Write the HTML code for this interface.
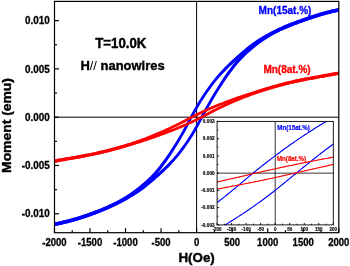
<!DOCTYPE html>
<html><head><meta charset="utf-8"><title>M-H</title>
<style>html,body{margin:0;padding:0;background:#fff}svg{display:block}text{font-family:"Liberation Sans",sans-serif;font-weight:bold;fill:#000}</style></head><body>
<svg width="350" height="266" viewBox="0 0 350 266">
<rect width="350" height="266" fill="#fff"/>
<defs><clipPath id="mc"><rect x="54.50" y="1.40" width="284.30" height="231.30"/></clipPath>
<clipPath id="ic"><rect x="217.10" y="121.40" width="116.20" height="103.50"/></clipPath></defs>
<g stroke="#000" stroke-width="1" fill="none">
<line x1="54.50" y1="117.20" x2="338.80" y2="117.20"/>
<line x1="196.60" y1="1.40" x2="196.60" y2="232.70"/>
</g>
<g clip-path="url(#mc)" fill="none" stroke-linejoin="round">
<path d="M52.81,226.31 L54.02,226.10 L55.24,225.88 L56.46,225.65 L57.67,225.42 L58.89,225.17 L60.11,224.92 L61.33,224.66 L62.54,224.39 L63.76,224.12 L64.98,223.83 L66.19,223.54 L67.41,223.24 L68.63,222.94 L69.84,222.62 L71.06,222.30 L72.28,221.97 L73.49,221.63 L74.71,221.29 L75.92,220.94 L77.14,220.58 L78.35,220.22 L79.57,219.85 L80.78,219.47 L82.00,219.08 L83.21,218.69 L84.43,218.29 L85.64,217.88 L86.86,217.47 L88.07,217.05 L89.29,216.62 L90.50,216.19 L91.72,215.75 L92.93,215.31 L94.15,214.85 L95.36,214.40 L96.57,213.93 L97.79,213.46 L99.00,212.98 L100.21,212.50 L101.43,212.01 L102.64,211.52 L103.86,211.02 L105.07,210.51 L106.28,209.99 L107.50,209.47 L108.72,208.93 L109.93,208.39 L111.15,207.84 L112.38,207.27 L113.60,206.68 L114.82,206.08 L116.04,205.47 L117.26,204.84 L118.48,204.20 L119.70,203.54 L120.92,202.88 L122.14,202.20 L123.37,201.50 L124.59,200.78 L125.81,200.05 L127.03,199.30 L128.25,198.53 L129.48,197.74 L130.70,196.94 L131.92,196.11 L133.14,195.27 L134.37,194.41 L135.59,193.53 L136.81,192.62 L138.03,191.70 L139.25,190.76 L140.47,189.79 L141.70,188.81 L142.92,187.80 L144.13,186.76 L145.34,185.70 L146.55,184.61 L147.77,183.50 L148.98,182.35 L150.19,181.18 L151.40,179.98 L152.62,178.75 L153.83,177.48 L155.04,176.18 L156.26,174.84 L157.48,173.44 L158.69,171.98 L159.90,170.48 L161.11,168.92 L162.32,167.34 L163.52,165.72 L164.72,164.07 L165.93,162.41 L167.13,160.72 L168.33,158.99 L169.54,157.21 L170.74,155.40 L171.94,153.56 L173.14,151.68 L174.34,149.77 L175.54,147.84 L176.74,145.88 L177.94,143.91 L179.15,141.92 L180.36,139.90 L181.57,137.87 L182.78,135.79 L184.00,133.66 L185.21,131.49 L186.42,129.27 L187.63,127.00 L188.84,124.69 L190.05,122.37 L191.26,120.06 L192.46,117.78 L193.66,115.54 L194.86,113.36 L196.06,111.22 L197.26,109.13 L198.46,107.06 L199.66,105.04 L200.86,103.06 L202.06,101.12 L203.26,99.23 L204.46,97.38 L205.65,95.57 L206.85,93.80 L208.05,92.06 L209.25,90.36 L210.45,88.69 L211.65,87.05 L212.85,85.44 L214.05,83.86 L215.24,82.31 L216.44,80.81 L217.63,79.36 L218.83,77.96 L220.04,76.59 L221.24,75.26 L222.45,73.96 L223.65,72.68 L224.86,71.43 L226.07,70.20 L227.28,68.99 L228.49,67.80 L229.69,66.62 L230.89,65.48 L232.09,64.38 L233.30,63.30 L234.50,62.23 L235.71,61.18 L236.93,60.12 L238.14,59.07 L239.36,58.00 L240.57,56.94 L241.78,55.90 L242.99,54.87 L244.19,53.86 L245.40,52.86 L246.60,51.88 L247.80,50.92 L249.01,49.98 L250.21,49.06 L251.41,48.15 L252.61,47.27 L253.80,46.40 L254.99,45.54 L256.18,44.71 L257.37,43.89 L258.56,43.10 L259.75,42.32 L260.94,41.56 L262.13,40.81 L263.32,40.09 L264.52,39.37 L265.71,38.68 L266.90,37.99 L268.09,37.32 L269.28,36.67 L270.48,36.02 L271.67,35.39 L272.86,34.77 L274.06,34.16 L275.25,33.57 L276.44,32.99 L277.64,32.42 L278.83,31.86 L280.03,31.31 L281.23,30.77 L282.42,30.23 L283.62,29.70 L284.82,29.17 L286.02,28.66 L287.21,28.15 L288.41,27.66 L289.61,27.17 L290.80,26.69 L292.00,26.21 L293.20,25.75 L294.40,25.28 L295.60,24.83 L296.80,24.38 L298.00,23.94 L299.20,23.50 L300.40,23.06 L301.60,22.63 L302.80,22.20 L304.00,21.78 L305.21,21.36 L306.41,20.94 L307.61,20.52 L308.82,20.10 L310.02,19.69 L311.22,19.29 L312.42,18.88 L313.62,18.49 L314.82,18.09 L316.02,17.71 L317.22,17.32 L318.41,16.95 L319.61,16.58 L320.81,16.22 L322.01,15.86 L323.20,15.52 L324.40,15.18 L325.59,14.85 L326.79,14.53 L327.98,14.22 L329.17,13.92 L330.36,13.63 L331.56,13.35 L332.75,13.08 L333.94,12.82 L335.13,12.57 L336.32,12.33 L337.50,12.11 L338.69,11.90 L339.88,11.70 L341.08,11.52 L340.52,7.96 L339.31,8.15 L338.08,8.35 L336.86,8.57 L335.63,8.80 L334.41,9.04 L333.19,9.29 L331.97,9.56 L330.74,9.84 L329.52,10.13 L328.30,10.42 L327.08,10.73 L325.86,11.05 L324.65,11.38 L323.43,11.71 L322.21,12.06 L320.99,12.41 L319.78,12.77 L318.56,13.14 L317.35,13.51 L316.13,13.89 L314.92,14.28 L313.71,14.67 L312.49,15.07 L311.28,15.47 L310.07,15.87 L308.86,16.28 L307.65,16.70 L306.44,17.12 L305.23,17.54 L304.02,17.96 L302.81,18.38 L301.60,18.81 L300.39,19.24 L299.18,19.68 L297.96,20.12 L296.75,20.56 L295.54,21.01 L294.33,21.46 L293.11,21.92 L291.90,22.39 L290.68,22.86 L289.47,23.34 L288.25,23.83 L287.04,24.33 L285.82,24.83 L284.60,25.35 L283.39,25.87 L282.17,26.40 L280.96,26.94 L279.75,27.48 L278.53,28.04 L277.32,28.59 L276.10,29.16 L274.88,29.75 L273.66,30.34 L272.44,30.95 L271.22,31.57 L270.00,32.20 L268.78,32.85 L267.56,33.50 L266.34,34.18 L265.12,34.86 L263.90,35.56 L262.68,36.28 L261.46,37.01 L260.24,37.75 L259.02,38.52 L257.80,39.30 L256.57,40.09 L255.35,40.91 L254.13,41.75 L252.91,42.61 L251.68,43.48 L250.46,44.38 L249.25,45.31 L248.04,46.26 L246.83,47.22 L245.62,48.21 L244.41,49.21 L243.20,50.23 L241.99,51.26 L240.78,52.31 L239.58,53.38 L238.37,54.45 L237.17,55.54 L235.98,56.62 L234.78,57.69 L233.58,58.77 L232.38,59.86 L231.18,60.96 L229.97,62.08 L228.75,63.24 L227.54,64.43 L226.33,65.64 L225.13,66.87 L223.93,68.11 L222.72,69.38 L221.52,70.67 L220.31,71.98 L219.10,73.33 L217.89,74.71 L216.69,76.12 L215.48,77.57 L214.26,79.05 L213.04,80.58 L211.82,82.16 L210.61,83.76 L209.40,85.39 L208.18,87.04 L206.97,88.73 L205.75,90.46 L204.54,92.22 L203.33,94.01 L202.11,95.85 L200.90,97.72 L199.69,99.64 L198.47,101.60 L197.26,103.60 L196.05,105.65 L194.83,107.72 L193.62,109.84 L192.41,112.00 L191.20,114.21 L189.99,116.46 L188.78,118.76 L187.57,121.08 L186.36,123.40 L185.16,125.69 L183.96,127.94 L182.76,130.14 L181.56,132.29 L180.36,134.39 L179.16,136.45 L177.96,138.47 L176.75,140.47 L175.55,142.45 L174.34,144.40 L173.12,146.33 L171.91,148.23 L170.70,150.11 L169.49,151.95 L168.28,153.76 L167.07,155.53 L165.86,157.26 L164.65,158.96 L163.44,160.61 L162.23,162.23 L161.02,163.84 L159.81,165.42 L158.60,166.97 L157.40,168.46 L156.20,169.91 L155.00,171.31 L153.81,172.64 L152.61,173.92 L151.41,175.17 L150.21,176.38 L149.01,177.56 L147.81,178.71 L146.61,179.83 L145.41,180.92 L144.21,181.99 L143.01,183.03 L141.81,184.05 L140.61,185.04 L139.42,186.02 L138.23,186.98 L137.04,187.92 L135.85,188.84 L134.66,189.74 L133.46,190.62 L132.27,191.48 L131.08,192.32 L129.89,193.14 L128.70,193.94 L127.51,194.73 L126.32,195.49 L125.13,196.24 L123.94,196.97 L122.75,197.68 L121.56,198.38 L120.37,199.06 L119.18,199.73 L117.99,200.38 L116.80,201.02 L115.60,201.64 L114.41,202.26 L113.22,202.86 L112.03,203.44 L110.84,204.01 L109.65,204.57 L108.46,205.11 L107.26,205.64 L106.06,206.16 L104.87,206.68 L103.67,207.19 L102.47,207.69 L101.27,208.19 L100.08,208.68 L98.88,209.16 L97.68,209.64 L96.48,210.11 L95.28,210.57 L94.08,211.03 L92.88,211.48 L91.68,211.93 L90.48,212.37 L89.29,212.80 L88.09,213.23 L86.89,213.65 L85.69,214.06 L84.49,214.47 L83.30,214.87 L82.10,215.26 L80.90,215.65 L79.70,216.03 L78.51,216.41 L77.31,216.77 L76.11,217.13 L74.92,217.48 L73.72,217.83 L72.52,218.17 L71.33,218.50 L70.13,218.82 L68.93,219.14 L67.74,219.45 L66.54,219.75 L65.34,220.04 L64.15,220.33 L62.95,220.61 L61.76,220.88 L60.56,221.14 L59.37,221.40 L58.17,221.65 L56.98,221.89 L55.78,222.12 L54.59,222.34 L53.39,222.56 L52.19,222.77Z" fill="#0000ff" stroke="none"/>
<path d="M52.81,226.31 L54.02,226.10 L55.24,225.88 L56.46,225.65 L57.67,225.42 L58.89,225.17 L60.11,224.92 L61.33,224.66 L62.54,224.39 L63.76,224.12 L64.98,223.83 L66.19,223.54 L67.41,223.24 L68.63,222.94 L69.84,222.62 L71.06,222.30 L72.28,221.97 L73.49,221.63 L74.71,221.29 L75.92,220.94 L77.14,220.58 L78.35,220.22 L79.57,219.85 L80.78,219.47 L82.00,219.08 L83.21,218.69 L84.43,218.29 L85.64,217.88 L86.86,217.47 L88.07,217.05 L89.29,216.62 L90.50,216.19 L91.72,215.75 L92.93,215.31 L94.15,214.85 L95.36,214.40 L96.57,213.93 L97.79,213.46 L99.00,212.98 L100.21,212.50 L101.43,212.01 L102.64,211.52 L103.86,211.02 L105.07,210.51 L106.28,209.99 L107.50,209.47 L108.72,208.93 L109.93,208.39 L111.15,207.84 L112.36,207.29 L113.57,206.73 L114.78,206.17 L116.00,205.60 L117.21,205.02 L118.43,204.42 L119.65,203.82 L120.87,203.20 L122.09,202.58 L123.31,201.94 L124.52,201.29 L125.74,200.63 L126.96,199.95 L128.18,199.26 L129.40,198.56 L130.62,197.85 L131.84,197.12 L133.06,196.38 L134.28,195.62 L135.50,194.84 L136.72,194.05 L137.94,193.24 L139.16,192.42 L140.38,191.57 L141.61,190.71 L142.83,189.82 L144.04,188.91 L145.25,187.97 L146.46,187.02 L147.67,186.06 L148.88,185.07 L150.09,184.07 L151.30,183.05 L152.51,182.02 L153.71,180.97 L154.92,179.91 L156.12,178.84 L157.31,177.78 L158.51,176.72 L159.71,175.66 L160.91,174.58 L162.12,173.50 L163.33,172.38 L164.54,171.24 L165.75,170.06 L166.96,168.86 L168.16,167.64 L169.37,166.41 L170.57,165.15 L171.78,163.87 L172.99,162.56 L174.20,161.22 L175.40,159.85 L176.61,158.44 L177.82,156.99 L179.04,155.51 L180.26,153.98 L181.48,152.40 L182.69,150.80 L183.91,149.17 L185.12,147.50 L186.33,145.81 L187.55,144.07 L188.76,142.30 L189.98,140.48 L191.19,138.62 L192.41,136.70 L193.62,134.73 L194.84,132.71 L196.05,130.62 L197.27,128.48 L198.48,126.29 L199.69,124.05 L200.90,121.79 L202.11,119.51 L203.31,117.25 L204.52,115.00 L205.72,112.78 L206.92,110.58 L208.13,108.41 L209.33,106.27 L210.53,104.15 L211.73,102.07 L212.93,100.02 L214.14,98.01 L215.34,96.02 L216.54,94.04 L217.75,92.07 L218.96,90.12 L220.18,88.20 L221.39,86.30 L222.60,84.43 L223.81,82.58 L225.02,80.77 L226.23,79.00 L227.44,77.26 L228.65,75.56 L229.86,73.90 L231.07,72.26 L232.29,70.64 L233.49,69.05 L234.70,67.49 L235.90,65.98 L237.10,64.52 L238.30,63.11 L239.50,61.76 L240.69,60.46 L241.90,59.20 L243.10,57.97 L244.30,56.77 L245.50,55.60 L246.70,54.46 L247.90,53.35 L249.10,52.27 L250.30,51.21 L251.50,50.18 L252.70,49.17 L253.89,48.18 L255.08,47.20 L256.27,46.25 L257.46,45.32 L258.65,44.41 L259.84,43.52 L261.03,42.65 L262.22,41.81 L263.41,40.98 L264.60,40.18 L265.79,39.39 L266.98,38.63 L268.16,37.88 L269.35,37.16 L270.54,36.45 L271.73,35.76 L272.92,35.08 L274.11,34.43 L275.30,33.79 L276.49,33.16 L277.68,32.54 L278.88,31.94 L280.07,31.36 L281.25,30.79 L282.44,30.24 L283.63,29.70 L284.82,29.17 L286.02,28.66 L287.21,28.15 L288.41,27.66 L289.61,27.17 L290.80,26.69 L292.00,26.21 L293.20,25.75 L294.40,25.28 L295.60,24.83 L296.80,24.38 L298.00,23.94 L299.20,23.50 L300.40,23.06 L301.60,22.63 L302.80,22.20 L304.00,21.78 L305.21,21.36 L306.41,20.94 L307.61,20.52 L308.82,20.10 L310.02,19.69 L311.22,19.29 L312.42,18.88 L313.62,18.49 L314.82,18.09 L316.02,17.71 L317.22,17.32 L318.41,16.95 L319.61,16.58 L320.81,16.22 L322.01,15.86 L323.20,15.52 L324.40,15.18 L325.59,14.85 L326.79,14.53 L327.98,14.22 L329.17,13.92 L330.36,13.63 L331.56,13.35 L332.75,13.08 L333.94,12.82 L335.13,12.57 L336.32,12.33 L337.50,12.11 L338.69,11.90 L339.88,11.70 L341.08,11.52 L340.52,7.96 L339.31,8.15 L338.08,8.35 L336.86,8.57 L335.63,8.80 L334.41,9.04 L333.19,9.29 L331.97,9.56 L330.74,9.84 L329.52,10.13 L328.30,10.42 L327.08,10.73 L325.86,11.05 L324.65,11.38 L323.43,11.71 L322.21,12.06 L320.99,12.41 L319.78,12.77 L318.56,13.14 L317.35,13.51 L316.13,13.89 L314.92,14.28 L313.71,14.67 L312.49,15.07 L311.28,15.47 L310.07,15.87 L308.86,16.28 L307.65,16.70 L306.44,17.12 L305.23,17.54 L304.02,17.96 L302.81,18.38 L301.60,18.81 L300.39,19.24 L299.18,19.68 L297.96,20.12 L296.75,20.56 L295.54,21.01 L294.33,21.46 L293.11,21.92 L291.90,22.39 L290.68,22.86 L289.47,23.34 L288.25,23.83 L287.04,24.33 L285.82,24.83 L284.60,25.35 L283.39,25.87 L282.17,26.41 L280.94,26.96 L279.72,27.53 L278.49,28.12 L277.27,28.72 L276.05,29.34 L274.83,29.97 L273.61,30.61 L272.39,31.27 L271.16,31.94 L269.94,32.63 L268.72,33.34 L267.49,34.07 L266.27,34.82 L265.05,35.59 L263.82,36.38 L262.60,37.18 L261.37,38.01 L260.15,38.86 L258.93,39.73 L257.70,40.62 L256.48,41.53 L255.26,42.47 L254.04,43.43 L252.82,44.40 L251.59,45.40 L250.37,46.43 L249.16,47.48 L247.95,48.56 L246.74,49.67 L245.52,50.80 L244.31,51.96 L243.10,53.15 L241.89,54.36 L240.67,55.61 L239.46,56.90 L238.25,58.21 L237.04,59.57 L235.82,60.99 L234.60,62.46 L233.39,63.98 L232.18,65.54 L230.98,67.14 L229.77,68.78 L228.57,70.43 L227.37,72.10 L226.17,73.80 L224.96,75.54 L223.76,77.32 L222.56,79.13 L221.36,80.98 L220.16,82.85 L218.96,84.76 L217.76,86.68 L216.56,88.63 L215.36,90.60 L214.15,92.58 L212.94,94.57 L211.73,96.57 L210.52,98.60 L209.31,100.66 L208.10,102.76 L206.89,104.89 L205.68,107.05 L204.47,109.23 L203.26,111.44 L202.05,113.67 L200.84,115.93 L199.64,118.20 L198.43,120.47 L197.23,122.73 L196.03,124.94 L194.83,127.11 L193.63,129.23 L192.43,131.28 L191.23,133.28 L190.04,135.21 L188.84,137.10 L187.64,138.94 L186.44,140.73 L185.25,142.48 L184.05,144.19 L182.85,145.86 L181.65,147.51 L180.45,149.12 L179.25,150.70 L178.06,152.25 L176.86,153.75 L175.67,155.20 L174.47,156.60 L173.26,157.96 L172.06,159.29 L170.85,160.58 L169.65,161.85 L168.44,163.09 L167.24,164.31 L166.03,165.51 L164.82,166.69 L163.61,167.85 L162.41,168.98 L161.22,170.08 L160.01,171.15 L158.81,172.20 L157.60,173.24 L156.38,174.27 L155.17,175.31 L153.95,176.36 L152.74,177.40 L151.53,178.43 L150.32,179.44 L149.12,180.44 L147.91,181.42 L146.71,182.38 L145.51,183.32 L144.30,184.25 L143.10,185.16 L141.90,186.05 L140.70,186.92 L139.51,187.78 L138.32,188.62 L137.13,189.45 L135.94,190.25 L134.75,191.04 L133.55,191.81 L132.36,192.57 L131.17,193.31 L129.98,194.04 L128.79,194.75 L127.59,195.45 L126.40,196.14 L125.21,196.81 L124.01,197.47 L122.82,198.12 L121.62,198.75 L120.43,199.38 L119.23,200.00 L118.04,200.60 L116.85,201.19 L115.65,201.77 L114.46,202.35 L113.26,202.91 L112.06,203.47 L110.86,204.02 L109.66,204.56 L108.46,205.11 L107.26,205.64 L106.06,206.16 L104.87,206.68 L103.67,207.19 L102.47,207.69 L101.27,208.19 L100.08,208.68 L98.88,209.16 L97.68,209.64 L96.48,210.11 L95.28,210.57 L94.08,211.03 L92.88,211.48 L91.68,211.93 L90.48,212.37 L89.29,212.80 L88.09,213.23 L86.89,213.65 L85.69,214.06 L84.49,214.47 L83.30,214.87 L82.10,215.26 L80.90,215.65 L79.70,216.03 L78.51,216.41 L77.31,216.77 L76.11,217.13 L74.92,217.48 L73.72,217.83 L72.52,218.17 L71.33,218.50 L70.13,218.82 L68.93,219.14 L67.74,219.45 L66.54,219.75 L65.34,220.04 L64.15,220.33 L62.95,220.61 L61.76,220.88 L60.56,221.14 L59.37,221.40 L58.17,221.65 L56.98,221.89 L55.78,222.12 L54.59,222.34 L53.39,222.56 L52.19,222.77Z" fill="#0000ff" stroke="none"/>
<path d="M52.78,163.05 L53.99,162.83 L55.19,162.61 L56.40,162.40 L57.60,162.19 L58.81,161.98 L60.01,161.77 L61.22,161.56 L62.42,161.35 L63.63,161.14 L64.84,160.93 L66.04,160.72 L67.25,160.51 L68.46,160.30 L69.66,160.09 L70.87,159.88 L72.08,159.67 L73.28,159.46 L74.49,159.24 L75.70,159.03 L76.91,158.81 L78.12,158.60 L79.33,158.38 L80.53,158.15 L81.74,157.93 L82.95,157.71 L84.16,157.48 L85.37,157.25 L86.58,157.01 L87.79,156.78 L89.00,156.54 L90.21,156.29 L91.42,156.05 L92.63,155.80 L93.84,155.54 L95.06,155.29 L96.27,155.02 L97.48,154.76 L98.69,154.49 L99.90,154.21 L101.11,153.94 L102.32,153.66 L103.53,153.37 L104.74,153.08 L105.96,152.79 L107.17,152.49 L108.38,152.19 L109.59,151.88 L110.80,151.57 L112.01,151.25 L113.22,150.94 L114.43,150.61 L115.64,150.29 L116.86,149.96 L118.07,149.62 L119.28,149.28 L120.49,148.94 L121.70,148.60 L122.91,148.25 L124.12,147.89 L125.33,147.53 L126.54,147.17 L127.76,146.80 L128.97,146.43 L130.18,146.06 L131.39,145.68 L132.61,145.29 L133.85,144.87 L135.07,144.44 L136.28,144.00 L137.49,143.56 L138.70,143.11 L139.91,142.65 L141.11,142.18 L142.32,141.72 L143.53,141.24 L144.74,140.77 L145.95,140.29 L147.15,139.80 L148.36,139.31 L149.57,138.81 L150.78,138.32 L151.98,137.81 L153.19,137.30 L154.40,136.79 L155.61,136.27 L156.81,135.75 L158.02,135.22 L159.23,134.69 L160.43,134.15 L161.64,133.61 L162.85,133.06 L164.06,132.51 L165.26,131.96 L166.47,131.39 L167.68,130.83 L168.88,130.26 L170.09,129.68 L171.30,129.11 L172.50,128.52 L173.71,127.94 L174.92,127.36 L176.13,126.77 L177.34,126.17 L178.55,125.57 L179.76,124.97 L180.97,124.36 L182.18,123.74 L183.39,123.13 L184.60,122.50 L185.81,121.88 L187.02,121.25 L188.23,120.62 L189.44,119.98 L190.64,119.35 L191.85,118.72 L193.05,118.09 L194.25,117.46 L195.45,116.85 L196.65,116.24 L197.85,115.64 L199.05,115.05 L200.25,114.48 L201.45,113.90 L202.65,113.34 L203.85,112.78 L205.05,112.23 L206.25,111.69 L207.45,111.15 L208.65,110.62 L209.85,110.09 L211.06,109.57 L212.26,109.06 L213.46,108.55 L214.66,108.05 L215.86,107.55 L217.06,107.06 L218.26,106.58 L219.47,106.09 L220.67,105.62 L221.87,105.15 L223.07,104.69 L224.28,104.24 L225.48,103.79 L226.69,103.35 L227.89,102.91 L229.10,102.47 L230.30,102.04 L231.51,101.62 L232.71,101.20 L233.92,100.78 L235.12,100.37 L236.33,99.96 L237.53,99.56 L238.74,99.15 L239.94,98.76 L241.15,98.37 L242.35,97.98 L243.56,97.59 L244.76,97.21 L245.97,96.83 L247.17,96.46 L248.38,96.09 L249.58,95.72 L250.79,95.36 L251.99,95.00 L253.20,94.64 L254.40,94.29 L255.61,93.94 L256.81,93.59 L258.01,93.24 L259.22,92.89 L260.43,92.54 L261.66,92.17 L262.87,91.79 L264.07,91.41 L265.28,91.04 L266.48,90.67 L267.68,90.30 L268.88,89.94 L270.09,89.58 L271.29,89.23 L272.49,88.87 L273.69,88.52 L274.89,88.18 L276.10,87.84 L277.30,87.50 L278.50,87.17 L279.70,86.84 L280.90,86.51 L282.10,86.19 L283.30,85.88 L284.50,85.57 L285.71,85.26 L286.91,84.96 L288.11,84.66 L289.31,84.36 L290.51,84.07 L291.71,83.79 L292.91,83.51 L294.11,83.24 L295.31,82.97 L296.51,82.70 L297.71,82.45 L298.91,82.19 L300.11,81.94 L301.31,81.70 L302.51,81.46 L303.71,81.23 L304.91,81.00 L306.11,80.77 L307.32,80.54 L308.52,80.32 L309.73,80.10 L310.93,79.88 L312.14,79.66 L313.34,79.44 L314.55,79.22 L315.75,79.00 L316.96,78.78 L318.17,78.56 L319.38,78.34 L320.58,78.12 L321.79,77.90 L322.99,77.68 L324.20,77.46 L325.41,77.23 L326.61,77.01 L327.82,76.79 L329.02,76.57 L330.23,76.35 L331.43,76.13 L332.64,75.92 L333.84,75.70 L335.05,75.48 L336.25,75.27 L337.46,75.06 L338.66,74.85 L339.87,74.64 L341.07,74.43 L340.53,71.28 L339.32,71.48 L338.11,71.69 L336.90,71.91 L335.70,72.12 L334.49,72.33 L333.28,72.55 L332.07,72.77 L330.86,72.99 L329.66,73.20 L328.45,73.42 L327.24,73.64 L326.04,73.87 L324.83,74.09 L323.62,74.31 L322.42,74.53 L321.21,74.75 L320.00,74.97 L318.80,75.19 L317.59,75.41 L316.39,75.63 L315.18,75.85 L313.98,76.07 L312.77,76.29 L311.56,76.51 L310.36,76.73 L309.15,76.95 L307.94,77.17 L306.73,77.40 L305.52,77.62 L304.31,77.85 L303.10,78.09 L301.89,78.32 L300.68,78.56 L299.47,78.81 L298.25,79.06 L297.04,79.32 L295.83,79.58 L294.61,79.84 L293.40,80.12 L292.19,80.39 L290.98,80.68 L289.77,80.96 L288.55,81.25 L287.34,81.55 L286.13,81.85 L284.92,82.16 L283.71,82.47 L282.49,82.78 L281.28,83.10 L280.07,83.42 L278.86,83.75 L277.65,84.08 L276.44,84.42 L275.23,84.76 L274.02,85.10 L272.81,85.45 L271.59,85.80 L270.38,86.16 L269.17,86.51 L267.96,86.88 L266.75,87.24 L265.54,87.61 L264.33,87.98 L263.12,88.36 L261.91,88.74 L260.71,89.11 L259.53,89.47 L258.33,89.82 L257.12,90.17 L255.91,90.52 L254.70,90.89 L253.49,91.26 L252.29,91.63 L251.08,92.01 L249.87,92.39 L248.66,92.77 L247.46,93.15 L246.25,93.54 L245.04,93.94 L243.83,94.33 L242.63,94.73 L241.42,95.14 L240.21,95.54 L239.00,95.96 L237.80,96.37 L236.59,96.79 L235.38,97.21 L234.17,97.64 L232.97,98.07 L231.76,98.51 L230.55,98.95 L229.34,99.39 L228.14,99.84 L226.93,100.30 L225.72,100.75 L224.51,101.22 L223.30,101.68 L222.10,102.16 L220.89,102.63 L219.68,103.11 L218.47,103.59 L217.26,104.07 L216.05,104.56 L214.83,105.05 L213.62,105.56 L212.41,106.06 L211.20,106.57 L209.99,107.09 L208.78,107.62 L207.57,108.15 L206.35,108.68 L205.14,109.23 L203.93,109.78 L202.72,110.33 L201.51,110.89 L200.29,111.46 L199.08,112.04 L197.87,112.63 L196.65,113.22 L195.44,113.83 L194.23,114.44 L193.02,115.07 L191.80,115.69 L190.60,116.32 L189.39,116.96 L188.18,117.59 L186.98,118.22 L185.77,118.85 L184.57,119.48 L183.36,120.10 L182.16,120.72 L180.96,121.34 L179.76,121.95 L178.55,122.55 L177.35,123.15 L176.15,123.75 L174.95,124.34 L173.74,124.93 L172.54,125.51 L171.34,126.09 L170.13,126.65 L168.93,127.21 L167.72,127.77 L166.52,128.32 L165.31,128.87 L164.10,129.41 L162.90,129.94 L161.69,130.48 L160.49,131.00 L159.28,131.52 L158.08,132.04 L156.87,132.55 L155.67,133.06 L154.46,133.57 L153.26,134.06 L152.05,134.56 L150.85,135.05 L149.64,135.53 L148.44,136.01 L147.23,136.49 L146.03,136.96 L144.82,137.42 L143.62,137.89 L142.41,138.34 L141.21,138.80 L140.00,139.24 L138.80,139.69 L137.59,140.12 L136.39,140.56 L135.19,140.99 L133.99,141.43 L132.80,141.85 L131.62,142.25 L130.43,142.63 L129.23,143.00 L128.02,143.37 L126.82,143.74 L125.62,144.11 L124.42,144.47 L123.22,144.82 L122.02,145.17 L120.82,145.52 L119.61,145.86 L118.41,146.20 L117.21,146.54 L116.01,146.87 L114.81,147.20 L113.61,147.52 L112.40,147.84 L111.20,148.16 L110.00,148.47 L108.80,148.78 L107.60,149.08 L106.40,149.38 L105.20,149.68 L103.99,149.97 L102.79,150.26 L101.59,150.54 L100.39,150.82 L99.19,151.09 L97.99,151.37 L96.79,151.63 L95.59,151.90 L94.38,152.16 L93.18,152.41 L91.98,152.66 L90.78,152.91 L89.58,153.16 L88.38,153.40 L87.17,153.64 L85.97,153.87 L84.77,154.10 L83.56,154.33 L82.36,154.56 L81.16,154.79 L79.95,155.01 L78.75,155.23 L77.55,155.45 L76.34,155.66 L75.14,155.88 L73.93,156.09 L72.73,156.31 L71.52,156.52 L70.32,156.73 L69.11,156.94 L67.91,157.15 L66.70,157.36 L65.50,157.57 L64.29,157.78 L63.08,157.98 L61.88,158.19 L60.67,158.40 L59.46,158.61 L58.26,158.82 L57.05,159.04 L55.84,159.25 L54.63,159.46 L53.42,159.68 L52.22,159.90Z" fill="#ff0000" stroke="none"/>
<path d="M52.78,163.05 L53.99,162.83 L55.19,162.61 L56.40,162.40 L57.60,162.19 L58.81,161.98 L60.01,161.77 L61.22,161.56 L62.42,161.35 L63.63,161.14 L64.84,160.93 L66.04,160.72 L67.25,160.51 L68.46,160.30 L69.66,160.09 L70.87,159.88 L72.08,159.67 L73.28,159.46 L74.49,159.24 L75.70,159.03 L76.91,158.81 L78.12,158.60 L79.33,158.38 L80.53,158.15 L81.74,157.93 L82.95,157.71 L84.16,157.48 L85.37,157.25 L86.58,157.01 L87.79,156.78 L89.00,156.54 L90.21,156.29 L91.42,156.05 L92.63,155.80 L93.84,155.54 L95.06,155.29 L96.27,155.02 L97.48,154.76 L98.69,154.49 L99.90,154.21 L101.11,153.94 L102.32,153.66 L103.53,153.37 L104.74,153.08 L105.96,152.79 L107.17,152.49 L108.38,152.19 L109.59,151.88 L110.80,151.57 L112.01,151.25 L113.22,150.94 L114.43,150.61 L115.64,150.29 L116.86,149.96 L118.07,149.62 L119.28,149.28 L120.49,148.94 L121.70,148.60 L122.91,148.25 L124.12,147.89 L125.33,147.53 L126.54,147.17 L127.76,146.80 L128.97,146.43 L130.18,146.06 L131.39,145.68 L132.59,145.30 L133.77,144.94 L134.97,144.59 L136.18,144.24 L137.39,143.88 L138.60,143.51 L139.81,143.14 L141.02,142.76 L142.23,142.38 L143.43,142.00 L144.64,141.61 L145.85,141.22 L147.06,140.83 L148.26,140.43 L149.47,140.03 L150.68,139.62 L151.89,139.21 L153.09,138.80 L154.30,138.38 L155.51,137.96 L156.72,137.54 L157.92,137.11 L159.13,136.68 L160.34,136.24 L161.55,135.80 L162.75,135.36 L163.96,134.91 L165.17,134.46 L166.38,134.00 L167.58,133.54 L168.79,133.07 L170.00,132.60 L171.20,132.13 L172.41,131.66 L173.62,131.18 L174.83,130.70 L176.04,130.22 L177.25,129.73 L178.46,129.24 L179.67,128.74 L180.89,128.24 L182.10,127.73 L183.31,127.21 L184.52,126.70 L185.73,126.17 L186.94,125.64 L188.15,125.11 L189.36,124.57 L190.57,124.02 L191.79,123.46 L193.00,122.90 L194.21,122.33 L195.43,121.75 L196.64,121.16 L197.86,120.55 L199.07,119.94 L200.28,119.32 L201.50,118.69 L202.70,118.06 L203.91,117.42 L205.12,116.79 L206.33,116.15 L207.53,115.52 L208.74,114.89 L209.94,114.26 L211.14,113.63 L212.35,113.00 L213.55,112.38 L214.75,111.77 L215.96,111.16 L217.16,110.56 L218.36,109.96 L219.56,109.37 L220.76,108.78 L221.96,108.20 L223.17,107.63 L224.37,107.07 L225.58,106.51 L226.78,105.96 L227.99,105.42 L229.19,104.88 L230.40,104.34 L231.60,103.81 L232.81,103.29 L234.01,102.77 L235.22,102.26 L236.42,101.75 L237.63,101.24 L238.83,100.75 L240.04,100.25 L241.24,99.76 L242.45,99.28 L243.65,98.80 L244.86,98.33 L246.06,97.86 L247.27,97.40 L248.47,96.94 L249.68,96.48 L250.88,96.03 L252.09,95.58 L253.29,95.14 L254.50,94.70 L255.70,94.27 L256.91,93.84 L258.11,93.41 L259.31,92.98 L260.50,92.56 L261.68,92.16 L262.87,91.79 L264.07,91.41 L265.28,91.04 L266.48,90.67 L267.68,90.30 L268.88,89.94 L270.09,89.58 L271.29,89.23 L272.49,88.87 L273.69,88.52 L274.89,88.18 L276.10,87.84 L277.30,87.50 L278.50,87.17 L279.70,86.84 L280.90,86.51 L282.10,86.19 L283.30,85.88 L284.50,85.57 L285.71,85.26 L286.91,84.96 L288.11,84.66 L289.31,84.36 L290.51,84.07 L291.71,83.79 L292.91,83.51 L294.11,83.24 L295.31,82.97 L296.51,82.70 L297.71,82.45 L298.91,82.19 L300.11,81.94 L301.31,81.70 L302.51,81.46 L303.71,81.23 L304.91,81.00 L306.11,80.77 L307.32,80.54 L308.52,80.32 L309.73,80.10 L310.93,79.88 L312.14,79.66 L313.34,79.44 L314.55,79.22 L315.75,79.00 L316.96,78.78 L318.17,78.56 L319.38,78.34 L320.58,78.12 L321.79,77.90 L322.99,77.68 L324.20,77.46 L325.41,77.23 L326.61,77.01 L327.82,76.79 L329.02,76.57 L330.23,76.35 L331.43,76.13 L332.64,75.92 L333.84,75.70 L335.05,75.48 L336.25,75.27 L337.46,75.06 L338.66,74.85 L339.87,74.64 L341.07,74.43 L340.53,71.28 L339.32,71.48 L338.11,71.69 L336.90,71.91 L335.70,72.12 L334.49,72.33 L333.28,72.55 L332.07,72.77 L330.86,72.99 L329.66,73.20 L328.45,73.42 L327.24,73.64 L326.04,73.87 L324.83,74.09 L323.62,74.31 L322.42,74.53 L321.21,74.75 L320.00,74.97 L318.80,75.19 L317.59,75.41 L316.39,75.63 L315.18,75.85 L313.98,76.07 L312.77,76.29 L311.56,76.51 L310.36,76.73 L309.15,76.95 L307.94,77.17 L306.73,77.40 L305.52,77.62 L304.31,77.85 L303.10,78.09 L301.89,78.32 L300.68,78.56 L299.47,78.81 L298.25,79.06 L297.04,79.32 L295.83,79.58 L294.61,79.84 L293.40,80.12 L292.19,80.39 L290.98,80.68 L289.77,80.96 L288.55,81.25 L287.34,81.55 L286.13,81.85 L284.92,82.16 L283.71,82.47 L282.49,82.78 L281.28,83.10 L280.07,83.42 L278.86,83.75 L277.65,84.08 L276.44,84.42 L275.23,84.76 L274.02,85.10 L272.81,85.45 L271.59,85.80 L270.38,86.16 L269.17,86.51 L267.96,86.88 L266.75,87.24 L265.54,87.61 L264.33,87.98 L263.12,88.36 L261.91,88.74 L260.69,89.12 L259.46,89.53 L258.24,89.97 L257.03,90.40 L255.82,90.84 L254.61,91.29 L253.40,91.74 L252.19,92.20 L250.98,92.66 L249.78,93.12 L248.57,93.59 L247.36,94.07 L246.15,94.55 L244.95,95.03 L243.74,95.52 L242.53,96.01 L241.32,96.51 L240.11,97.02 L238.91,97.52 L237.70,98.04 L236.49,98.55 L235.28,99.08 L234.08,99.61 L232.87,100.14 L231.66,100.68 L230.45,101.22 L229.25,101.77 L228.04,102.33 L226.83,102.89 L225.62,103.45 L224.42,104.02 L223.21,104.60 L222.00,105.18 L220.79,105.77 L219.58,106.35 L218.37,106.94 L217.16,107.54 L215.95,108.14 L214.74,108.75 L213.53,109.36 L212.32,109.98 L211.11,110.61 L209.90,111.23 L208.69,111.86 L207.48,112.49 L206.28,113.13 L205.07,113.76 L203.86,114.40 L202.66,115.03 L201.45,115.66 L200.25,116.29 L199.05,116.92 L197.85,117.53 L196.65,118.14 L195.45,118.73 L194.25,119.32 L193.06,119.89 L191.86,120.46 L190.66,121.01 L189.46,121.56 L188.26,122.10 L187.05,122.64 L185.85,123.17 L184.65,123.70 L183.45,124.22 L182.25,124.73 L181.05,125.24 L179.85,125.74 L178.64,126.24 L177.44,126.74 L176.24,127.23 L175.04,127.71 L173.84,128.19 L172.63,128.67 L171.43,129.14 L170.23,129.60 L169.02,130.06 L167.82,130.51 L166.61,130.95 L165.40,131.39 L164.20,131.83 L162.99,132.26 L161.79,132.69 L160.58,133.12 L159.38,133.54 L158.17,133.96 L156.97,134.37 L155.76,134.78 L154.56,135.18 L153.35,135.58 L152.15,135.98 L150.94,136.38 L149.74,136.77 L148.53,137.15 L147.33,137.53 L146.12,137.91 L144.92,138.29 L143.71,138.66 L142.51,139.03 L141.30,139.39 L140.10,139.76 L138.89,140.11 L137.69,140.47 L136.48,140.82 L135.28,141.17 L134.08,141.52 L132.87,141.87 L131.64,142.24 L130.43,142.63 L129.23,143.00 L128.02,143.37 L126.82,143.74 L125.62,144.11 L124.42,144.47 L123.22,144.82 L122.02,145.17 L120.82,145.52 L119.61,145.86 L118.41,146.20 L117.21,146.54 L116.01,146.87 L114.81,147.20 L113.61,147.52 L112.40,147.84 L111.20,148.16 L110.00,148.47 L108.80,148.78 L107.60,149.08 L106.40,149.38 L105.20,149.68 L103.99,149.97 L102.79,150.26 L101.59,150.54 L100.39,150.82 L99.19,151.09 L97.99,151.37 L96.79,151.63 L95.59,151.90 L94.38,152.16 L93.18,152.41 L91.98,152.66 L90.78,152.91 L89.58,153.16 L88.38,153.40 L87.17,153.64 L85.97,153.87 L84.77,154.10 L83.56,154.33 L82.36,154.56 L81.16,154.79 L79.95,155.01 L78.75,155.23 L77.55,155.45 L76.34,155.66 L75.14,155.88 L73.93,156.09 L72.73,156.31 L71.52,156.52 L70.32,156.73 L69.11,156.94 L67.91,157.15 L66.70,157.36 L65.50,157.57 L64.29,157.78 L63.08,157.98 L61.88,158.19 L60.67,158.40 L59.46,158.61 L58.26,158.82 L57.05,159.04 L55.84,159.25 L54.63,159.46 L53.42,159.68 L52.22,159.90Z" fill="#ff0000" stroke="none"/>
</g>
<g stroke="#000" stroke-width="1.2" fill="none">
<rect x="54.50" y="1.40" width="284.30" height="231.30"/>
<line x1="54.50" y1="213.80" x2="59.00" y2="213.80"/>
<line x1="54.50" y1="165.50" x2="59.00" y2="165.50"/>
<line x1="54.50" y1="117.20" x2="59.00" y2="117.20"/>
<line x1="54.50" y1="68.90" x2="59.00" y2="68.90"/>
<line x1="54.50" y1="20.60" x2="59.00" y2="20.60"/>
<line x1="54.50" y1="189.65" x2="57.00" y2="189.65"/>
<line x1="54.50" y1="141.35" x2="57.00" y2="141.35"/>
<line x1="54.50" y1="93.05" x2="57.00" y2="93.05"/>
<line x1="54.50" y1="44.75" x2="57.00" y2="44.75"/>
<line x1="54.45" y1="232.70" x2="54.45" y2="228.20"/>
<line x1="89.99" y1="232.70" x2="89.99" y2="228.20"/>
<line x1="125.52" y1="232.70" x2="125.52" y2="228.20"/>
<line x1="161.06" y1="232.70" x2="161.06" y2="228.20"/>
<line x1="196.60" y1="232.70" x2="196.60" y2="228.20"/>
<line x1="232.14" y1="232.70" x2="232.14" y2="228.20"/>
<line x1="267.68" y1="232.70" x2="267.68" y2="228.20"/>
<line x1="303.21" y1="232.70" x2="303.21" y2="228.20"/>
<line x1="338.75" y1="232.70" x2="338.75" y2="228.20"/>
<line x1="72.22" y1="232.70" x2="72.22" y2="230.20"/>
<line x1="107.76" y1="232.70" x2="107.76" y2="230.20"/>
<line x1="143.29" y1="232.70" x2="143.29" y2="230.20"/>
<line x1="178.83" y1="232.70" x2="178.83" y2="230.20"/>
<line x1="214.37" y1="232.70" x2="214.37" y2="230.20"/>
<line x1="249.91" y1="232.70" x2="249.91" y2="230.20"/>
<line x1="285.44" y1="232.70" x2="285.44" y2="230.20"/>
<line x1="320.98" y1="232.70" x2="320.98" y2="230.20"/>
</g>
<text transform="translate(49.80,217.40) scale(0.980,1.000)" font-size="10.10" text-anchor="end" style="fill:#000;stroke:#000;stroke-width:0.30px">-0.010</text>
<text transform="translate(49.80,169.10) scale(0.980,1.000)" font-size="10.10" text-anchor="end" style="fill:#000;stroke:#000;stroke-width:0.30px">-0.005</text>
<text transform="translate(49.80,120.80) scale(0.980,1.000)" font-size="10.10" text-anchor="end" style="fill:#000;stroke:#000;stroke-width:0.30px">0.000</text>
<text transform="translate(49.80,72.50) scale(0.980,1.000)" font-size="10.10" text-anchor="end" style="fill:#000;stroke:#000;stroke-width:0.30px">0.005</text>
<text transform="translate(49.80,24.20) scale(0.980,1.000)" font-size="10.10" text-anchor="end" style="fill:#000;stroke:#000;stroke-width:0.30px">0.010</text>
<text transform="translate(54.45,245.90) scale(0.955,1.000)" font-size="10.00" text-anchor="middle" style="fill:#000;stroke:#000;stroke-width:0.30px">-2000</text>
<text transform="translate(89.99,245.90) scale(0.955,1.000)" font-size="10.00" text-anchor="middle" style="fill:#000;stroke:#000;stroke-width:0.30px">-1500</text>
<text transform="translate(125.52,245.90) scale(0.955,1.000)" font-size="10.00" text-anchor="middle" style="fill:#000;stroke:#000;stroke-width:0.30px">-1000</text>
<text transform="translate(161.06,245.90) scale(0.955,1.000)" font-size="10.00" text-anchor="middle" style="fill:#000;stroke:#000;stroke-width:0.30px">-500</text>
<text transform="translate(196.60,245.90) scale(0.955,1.000)" font-size="10.00" text-anchor="middle" style="fill:#000;stroke:#000;stroke-width:0.30px">0</text>
<text transform="translate(232.14,245.90) scale(0.955,1.000)" font-size="10.00" text-anchor="middle" style="fill:#000;stroke:#000;stroke-width:0.30px">500</text>
<text transform="translate(267.68,245.90) scale(0.955,1.000)" font-size="10.00" text-anchor="middle" style="fill:#000;stroke:#000;stroke-width:0.30px">1000</text>
<text transform="translate(303.21,245.90) scale(0.955,1.000)" font-size="10.00" text-anchor="middle" style="fill:#000;stroke:#000;stroke-width:0.30px">1500</text>
<text transform="translate(338.75,245.90) scale(0.955,1.000)" font-size="10.00" text-anchor="middle" style="fill:#000;stroke:#000;stroke-width:0.30px">2000</text>
<text transform="translate(196.60,262.20)" font-size="13.30" text-anchor="middle" style="fill:#000;stroke:#000;stroke-width:0.40px">H(Oe)</text>
<text transform="translate(11.30,125.50) rotate(-90) scale(1.000,0.910)" font-size="13.90" text-anchor="middle" style="fill:#000;stroke:#000;stroke-width:0.42px">Moment (emu)</text>
<text transform="translate(120.80,48.20) scale(0.946,1.000)" font-size="14.00" text-anchor="middle" style="fill:#000;stroke:#000;stroke-width:0.42px">T=10.0K</text>
<text transform="translate(122.50,69.60) scale(0.946,1.000)" font-size="13.70" text-anchor="middle" style="fill:#000;stroke:#000;stroke-width:0.41px">H<tspan font-weight="normal" style="stroke-width:0">//</tspan> nanowires</text>
<text transform="translate(285.00,13.60)" font-size="10.00" text-anchor="middle" style="fill:#0000ff;stroke:#0000ff;stroke-width:0.30px">Mn(15at.%)</text>
<text transform="translate(287.00,73.10)" font-size="10.00" text-anchor="middle" style="fill:#ff0000;stroke:#ff0000;stroke-width:0.30px">Mn(8at.%)</text>
<g stroke="#000" stroke-width="0.8" fill="none">
<line x1="217.10" y1="173.15" x2="333.30" y2="173.15"/>
<line x1="275.20" y1="121.40" x2="275.20" y2="224.90"/>
</g>
<g clip-path="url(#ic)" fill="none">
<path d="M209.80,208.08 L211.46,206.84 L213.12,205.60 L214.77,204.34 L216.43,203.08 L218.08,201.80 L219.74,200.52 L221.39,199.22 L223.05,197.92 L224.70,196.61 L226.36,195.29 L228.02,193.96 L229.67,192.61 L231.33,191.26 L232.98,189.90 L234.64,188.53 L236.29,187.16 L237.95,185.77 L239.60,184.38 L241.26,182.99 L242.92,181.60 L244.57,180.21 L246.23,178.82 L247.88,177.43 L249.54,176.05 L251.19,174.68 L252.85,173.31 L254.51,171.95 L256.16,170.60 L257.82,169.26 L259.47,167.94 L261.13,166.62 L262.78,165.31 L264.44,164.01 L266.09,162.72 L267.75,161.44 L269.41,160.17 L271.06,158.90 L272.72,157.65 L274.37,156.40 L276.03,155.16 L277.68,153.92 L279.34,152.69 L280.99,151.47 L282.65,150.26 L284.31,149.06 L285.96,147.86 L287.62,146.67 L289.27,145.50 L290.93,144.33 L292.58,143.17 L294.24,142.02 L295.89,140.87 L297.55,139.74 L299.21,138.62 L300.86,137.50 L302.52,136.39 L304.17,135.29 L305.83,134.20 L307.48,133.11 L309.14,132.03 L310.80,130.96 L312.45,129.90 L314.11,128.85 L315.76,127.80 L317.42,126.76 L319.07,125.73 L320.73,124.70 L322.38,123.68 L324.04,122.67 L325.70,121.66 L327.35,120.66 L329.01,119.67 L330.66,118.68 L332.32,117.70 L333.97,116.72 L335.63,115.75 L337.28,114.79 L338.94,113.83 L340.60,112.88" stroke="#0000ff" stroke-width="1.15"/>
<path d="M209.80,233.94 L211.46,232.99 L213.12,232.03 L214.77,231.07 L216.43,230.10 L218.08,229.12 L219.74,228.14 L221.39,227.15 L223.05,226.15 L224.70,225.15 L226.36,224.14 L228.02,223.13 L229.67,222.10 L231.33,221.07 L232.98,220.04 L234.64,218.99 L236.29,217.94 L237.95,216.87 L239.60,215.80 L241.26,214.72 L242.92,213.64 L244.57,212.54 L246.23,211.43 L247.88,210.31 L249.54,209.19 L251.19,208.05 L252.85,206.90 L254.51,205.74 L256.16,204.57 L257.82,203.39 L259.47,202.20 L261.13,201.00 L262.78,199.78 L264.44,198.56 L266.09,197.32 L267.75,196.07 L269.41,194.80 L271.06,193.53 L272.72,192.24 L274.37,190.95 L276.03,189.64 L277.68,188.33 L279.34,187.00 L280.99,185.67 L282.65,184.32 L284.31,182.98 L285.96,181.62 L287.62,180.26 L289.27,178.90 L290.93,177.54 L292.58,176.17 L294.24,174.81 L295.89,173.45 L297.55,172.09 L299.21,170.73 L300.86,169.38 L302.52,168.04 L304.17,166.70 L305.83,165.36 L307.48,164.03 L309.14,162.70 L310.80,161.38 L312.45,160.07 L314.11,158.76 L315.76,157.45 L317.42,156.15 L319.07,154.86 L320.73,153.57 L322.38,152.29 L324.04,151.01 L325.70,149.74 L327.35,148.47 L329.01,147.22 L330.66,145.96 L332.32,144.72 L333.97,143.48 L335.63,142.25 L337.28,141.02 L338.94,139.80 L340.60,138.59" stroke="#0000ff" stroke-width="1.15"/>
<path d="M209.80,183.57 L211.46,183.20 L213.12,182.83 L214.77,182.47 L216.43,182.10 L218.08,181.73 L219.74,181.36 L221.39,180.98 L223.05,180.61 L224.70,180.24 L226.36,179.86 L228.02,179.49 L229.67,179.11 L231.33,178.74 L232.98,178.36 L234.64,177.98 L236.29,177.60 L237.95,177.22 L239.60,176.84 L241.26,176.46 L242.92,176.08 L244.57,175.70 L246.23,175.32 L247.88,174.94 L249.54,174.56 L251.19,174.19 L252.85,173.81 L254.51,173.43 L256.16,173.05 L257.82,172.67 L259.47,172.30 L261.13,171.92 L262.78,171.55 L264.44,171.17 L266.09,170.80 L267.75,170.43 L269.41,170.06 L271.06,169.70 L272.72,169.33 L274.37,168.97 L276.03,168.61 L277.68,168.25 L279.34,167.89 L280.99,167.54 L282.65,167.18 L284.31,166.83 L285.96,166.48 L287.62,166.14 L289.27,165.79 L290.93,165.45 L292.58,165.10 L294.24,164.76 L295.89,164.42 L297.55,164.08 L299.21,163.74 L300.86,163.41 L302.52,163.07 L304.17,162.74 L305.83,162.41 L307.48,162.08 L309.14,161.75 L310.80,161.42 L312.45,161.09 L314.11,160.77 L315.76,160.44 L317.42,160.12 L319.07,159.80 L320.73,159.48 L322.38,159.16 L324.04,158.84 L325.70,158.53 L327.35,158.21 L329.01,157.90 L330.66,157.58 L332.32,157.27 L333.97,156.96 L335.63,156.65 L337.28,156.35 L338.94,156.04 L340.60,155.73" stroke="#ff0000" stroke-width="1.15"/>
<path d="M209.80,190.46 L211.46,190.15 L213.12,189.85 L214.77,189.54 L216.43,189.24 L218.08,188.93 L219.74,188.62 L221.39,188.31 L223.05,188.00 L224.70,187.69 L226.36,187.38 L228.02,187.07 L229.67,186.75 L231.33,186.44 L232.98,186.12 L234.64,185.80 L236.29,185.48 L237.95,185.16 L239.60,184.84 L241.26,184.52 L242.92,184.19 L244.57,183.87 L246.23,183.54 L247.88,183.21 L249.54,182.88 L251.19,182.55 L252.85,182.22 L254.51,181.89 L256.16,181.55 L257.82,181.22 L259.47,180.88 L261.13,180.54 L262.78,180.20 L264.44,179.85 L266.09,179.51 L267.75,179.16 L269.41,178.81 L271.06,178.45 L272.72,178.10 L274.37,177.74 L276.03,177.38 L277.68,177.02 L279.34,176.66 L280.99,176.29 L282.65,175.92 L284.31,175.55 L285.96,175.18 L287.62,174.81 L289.27,174.44 L290.93,174.06 L292.58,173.68 L294.24,173.31 L295.89,172.93 L297.55,172.55 L299.21,172.17 L300.86,171.79 L302.52,171.41 L304.17,171.03 L305.83,170.65 L307.48,170.27 L309.14,169.89 L310.80,169.51 L312.45,169.13 L314.11,168.75 L315.76,168.37 L317.42,167.99 L319.07,167.61 L320.73,167.23 L322.38,166.85 L324.04,166.47 L325.70,166.09 L327.35,165.72 L329.01,165.34 L330.66,164.96 L332.32,164.58 L333.97,164.21 L335.63,163.83 L337.28,163.46 L338.94,163.09 L340.60,162.71" stroke="#ff0000" stroke-width="1.15"/>
</g>
<g stroke="#000" stroke-width="0.9" fill="none">
<rect x="217.10" y="121.40" width="116.20" height="103.50"/>
<line x1="217.10" y1="224.90" x2="219.10" y2="224.90"/>
<line x1="217.10" y1="207.65" x2="219.10" y2="207.65"/>
<line x1="217.10" y1="190.40" x2="219.10" y2="190.40"/>
<line x1="217.10" y1="173.15" x2="219.10" y2="173.15"/>
<line x1="217.10" y1="155.90" x2="219.10" y2="155.90"/>
<line x1="217.10" y1="138.65" x2="219.10" y2="138.65"/>
<line x1="217.10" y1="121.40" x2="219.10" y2="121.40"/>
<line x1="217.10" y1="216.28" x2="218.30" y2="216.28"/>
<line x1="217.10" y1="199.03" x2="218.30" y2="199.03"/>
<line x1="217.10" y1="181.78" x2="218.30" y2="181.78"/>
<line x1="217.10" y1="164.53" x2="218.30" y2="164.53"/>
<line x1="217.10" y1="147.28" x2="218.30" y2="147.28"/>
<line x1="217.10" y1="130.03" x2="218.30" y2="130.03"/>
<line x1="217.10" y1="224.90" x2="217.10" y2="222.90"/>
<line x1="231.62" y1="224.90" x2="231.62" y2="222.90"/>
<line x1="246.15" y1="224.90" x2="246.15" y2="222.90"/>
<line x1="260.68" y1="224.90" x2="260.68" y2="222.90"/>
<line x1="275.20" y1="224.90" x2="275.20" y2="222.90"/>
<line x1="289.72" y1="224.90" x2="289.72" y2="222.90"/>
<line x1="304.25" y1="224.90" x2="304.25" y2="222.90"/>
<line x1="318.77" y1="224.90" x2="318.77" y2="222.90"/>
<line x1="333.30" y1="224.90" x2="333.30" y2="222.90"/>
<line x1="224.36" y1="224.90" x2="224.36" y2="223.70"/>
<line x1="238.89" y1="224.90" x2="238.89" y2="223.70"/>
<line x1="253.41" y1="224.90" x2="253.41" y2="223.70"/>
<line x1="267.94" y1="224.90" x2="267.94" y2="223.70"/>
<line x1="282.46" y1="224.90" x2="282.46" y2="223.70"/>
<line x1="296.99" y1="224.90" x2="296.99" y2="223.70"/>
<line x1="311.51" y1="224.90" x2="311.51" y2="223.70"/>
<line x1="326.04" y1="224.90" x2="326.04" y2="223.70"/>
</g>
<text transform="translate(214.70,226.70) scale(0.950,1.000)" font-size="5.00" text-anchor="end" style="fill:#000;stroke:#000;stroke-width:0.15px">-0.003</text>
<text transform="translate(214.70,209.45) scale(0.950,1.000)" font-size="5.00" text-anchor="end" style="fill:#000;stroke:#000;stroke-width:0.15px">-0.002</text>
<text transform="translate(214.70,192.20) scale(0.950,1.000)" font-size="5.00" text-anchor="end" style="fill:#000;stroke:#000;stroke-width:0.15px">-0.001</text>
<text transform="translate(214.70,174.95) scale(0.950,1.000)" font-size="5.00" text-anchor="end" style="fill:#000;stroke:#000;stroke-width:0.15px">0.000</text>
<text transform="translate(214.70,157.70) scale(0.950,1.000)" font-size="5.00" text-anchor="end" style="fill:#000;stroke:#000;stroke-width:0.15px">0.001</text>
<text transform="translate(214.70,140.45) scale(0.950,1.000)" font-size="5.00" text-anchor="end" style="fill:#000;stroke:#000;stroke-width:0.15px">0.002</text>
<text transform="translate(214.70,123.20) scale(0.950,1.000)" font-size="5.00" text-anchor="end" style="fill:#000;stroke:#000;stroke-width:0.15px">0.003</text>
<text transform="translate(217.10,231.40) scale(0.930,1.000)" font-size="4.90" text-anchor="middle" style="fill:#000;stroke:#000;stroke-width:0.15px">-200</text>
<text transform="translate(231.62,231.40) scale(0.930,1.000)" font-size="4.90" text-anchor="middle" style="fill:#000;stroke:#000;stroke-width:0.15px">-150</text>
<text transform="translate(246.15,231.40) scale(0.930,1.000)" font-size="4.90" text-anchor="middle" style="fill:#000;stroke:#000;stroke-width:0.15px">-100</text>
<text transform="translate(260.68,231.40) scale(0.930,1.000)" font-size="4.90" text-anchor="middle" style="fill:#000;stroke:#000;stroke-width:0.15px">-50</text>
<text transform="translate(275.20,231.40) scale(0.930,1.000)" font-size="4.90" text-anchor="middle" style="fill:#000;stroke:#000;stroke-width:0.15px">0</text>
<text transform="translate(289.72,231.40) scale(0.930,1.000)" font-size="4.90" text-anchor="middle" style="fill:#000;stroke:#000;stroke-width:0.15px">50</text>
<text transform="translate(304.25,231.40) scale(0.930,1.000)" font-size="4.90" text-anchor="middle" style="fill:#000;stroke:#000;stroke-width:0.15px">100</text>
<text transform="translate(318.77,231.40) scale(0.930,1.000)" font-size="4.90" text-anchor="middle" style="fill:#000;stroke:#000;stroke-width:0.15px">150</text>
<text transform="translate(333.30,231.40) scale(0.930,1.000)" font-size="4.90" text-anchor="middle" style="fill:#000;stroke:#000;stroke-width:0.15px">200</text>
<text transform="translate(293.60,130.40) scale(0.950,1.000)" font-size="6.50" text-anchor="middle" style="fill:#0000ff;stroke:#0000ff;stroke-width:0.20px">Mn(15at.%)</text>
<text transform="translate(291.50,161.00) scale(0.950,1.000)" font-size="6.50" text-anchor="middle" style="fill:#ff0000;stroke:#ff0000;stroke-width:0.20px">Mn(8at.%)</text>
</svg></body></html>
